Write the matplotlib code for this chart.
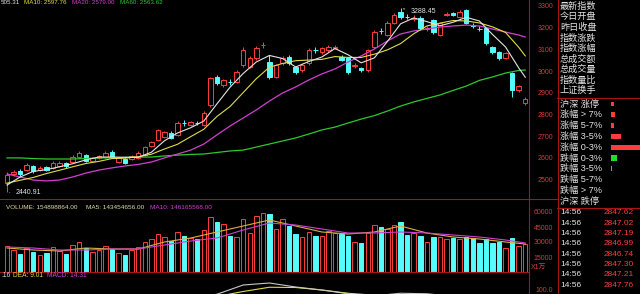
import numpy as np
import matplotlib
matplotlib.use("Agg")
import matplotlib.pyplot as plt
from matplotlib.lines import Line2D

W, H = 640, 294

# daily candles, left to right
opens = [2484, 2526, 2540, 2544, 2562, 2545, 2558, 2553, 2563, 2577,
         2581, 2604, 2614, 2586, 2600, 2604, 2627, 2581, 2595, 2595,
         2600, 2614, 2655, 2683, 2696, 2715, 2706, 2763, 2752, 2762,
         2752, 2844, 2973, 2936, 2952, 2950, 3028, 3019, 3060, 3118,
         3042, 2973, 3037, 3065, 3019, 3005, 3037, 3099, 3088, 3097,
         3107, 3065, 3060, 3024, 3014, 3005, 3111, 3187, 3166, 3222,
         3272, 3251, 3242, 3245, 3194, 3235, 3166, 3258, 3266, 3249,
         3282, 3214, 3196, 3199, 3111, 3088, 3060, 2991, 2913, 2851]
closes = [2521, 2535, 2526, 2567, 2540, 2554, 2545, 2577, 2577, 2563,
          2604, 2623, 2586, 2600, 2609, 2623, 2604, 2600, 2577, 2609,
          2623, 2650, 2673, 2729, 2719, 2692, 2761, 2759, 2766, 2759,
          2807, 2968, 2945, 2959, 2949, 2996, 3097, 3060, 3107, 3122,
          2973, 3028, 3060, 3037, 2996, 3028, 3097, 3095, 3107, 3111,
          3111, 3051, 2996, 3028, 3005, 3097, 3180, 3183, 3222, 3258,
          3249, 3248, 3246, 3199, 3199, 3180, 3222, 3265, 3260, 3272,
          3222, 3210, 3193, 3130, 3088, 3060, 3083, 2913, 2931, 2872]
highs = [2535, 2545, 2548, 2575, 2568, 2562, 2565, 2585, 2584, 2583,
         2612, 2632, 2620, 2606, 2615, 2630, 2635, 2606, 2600, 2615,
         2630, 2656, 2680, 2735, 2726, 2722, 2768, 2775, 2772, 2772,
         2815, 2975, 2982, 2965, 2962, 3003, 3111, 3068, 3115, 3135,
         3074, 3035, 3068, 3072, 3025, 3036, 3105, 3110, 3113, 3118,
         3120, 3072, 3066, 3037, 3020, 3104, 3188, 3198, 3230, 3266,
         3288.45, 3262, 3258, 3252, 3206, 3242, 3228, 3272, 3273, 3280,
         3287, 3220, 3206, 3204, 3115, 3094, 3090, 2998, 2938, 2880]
lows = [2440.91, 2515, 2518, 2538, 2532, 2538, 2538, 2548, 2557, 2555,
        2576, 2598, 2580, 2580, 2594, 2598, 2598, 2575, 2570, 2590,
        2594, 2608, 2648, 2676, 2690, 2686, 2700, 2748, 2745, 2750,
        2745, 2835, 2938, 2928, 2938, 2944, 3020, 3012, 3052, 3108,
        2965, 2966, 3030, 3030, 2988, 2998, 3030, 3085, 3080, 3090,
        3100, 3045, 2988, 3015, 2995, 2998, 3104, 3172, 3160, 3215,
        3240, 3238, 3232, 3190, 3186, 3172, 3160, 3252, 3254, 3244,
        3215, 3200, 3185, 3122, 3080, 3052, 3055, 2881, 2905, 2842]
volumes = [26000, 22000, 18000, 24000, 20000, 17000, 19000, 25000, 21000, 18000,
           27000, 30000, 24000, 20000, 22000, 26000, 23000, 19000, 17000, 22000,
           25000, 30000, 33000, 38000, 35000, 31000, 40000, 36000, 34000, 33000,
           42000, 55000, 50000, 48000, 36000, 35000, 53000, 39000, 56000, 59000,
           58000, 43000, 53000, 46000, 38000, 35000, 40000, 36000, 36000, 41000,
           39000, 38000, 36000, 30000, 29000, 39000, 47000, 45000, 43000, 47000,
           50000, 37000, 39000, 36000, 30000, 35000, 35000, 33000, 34000, 33000,
           35000, 34000, 29000, 33000, 29000, 30000, 24000, 34000, 26000, 28000]

# price moving averages, read at every second candle and the last one
ma_idx = [0, 2, 4, 6, 8, 10, 12, 14, 16, 18, 20, 22, 24, 26, 28, 30, 32, 34, 36, 38,
          40, 42, 44, 46, 48, 50, 52, 54, 56, 58, 60, 62, 64, 66, 68, 70, 72, 74, 76, 78, 79]
ma5 = [2475, 2512, 2538, 2546, 2559, 2573, 2591, 2604, 2604, 2603, 2603, 2626, 2679, 2715,
       2739, 2770, 2849, 2926, 2989, 3042, 3072, 3058, 3019, 3044, 3065, 3104, 3075, 3038,
       3061, 3137, 3218, 3245, 3228, 3209, 3225, 3248, 3231, 3169, 3111, 3015, 2972]
ma10 = [2484, 2497, 2510, 2528, 2543, 2559, 2574, 2584, 2597, 2599, 2605, 2617, 2641, 2663,
        2698, 2732, 2791, 2837, 2901, 2965, 3018, 3035, 3048, 3051, 3054, 3067, 3063, 3063,
        3078, 3098, 3127, 3172, 3208, 3221, 3233, 3231, 3222, 3204, 3178, 3110, 3070]
ma20 = [2526, 2512, 2498, 2494, 2498, 2512, 2530, 2544, 2554, 2563, 2570, 2581, 2600, 2618,
        2636, 2664, 2706, 2747, 2784, 2821, 2862, 2899, 2927, 2959, 2987, 3010, 3042, 3070,
        3102, 3139, 3171, 3185, 3194, 3203, 3208, 3212, 3208, 3194, 3180, 3166, 3157]
ma60 = [2600, 2600, 2597, 2595, 2595, 2595, 2597, 2600, 2600, 2602, 2604, 2604, 2609, 2613,
        2616, 2618, 2625, 2632, 2636, 2650, 2664, 2678, 2692, 2710, 2729, 2742, 2761, 2779,
        2795, 2816, 2839, 2858, 2874, 2890, 2911, 2931, 2957, 2973, 2991, 3003, 3005]

# volume moving averages
vol_ma_idx = [0, 4, 8, 12, 16, 20, 24, 28, 32, 36, 40, 44, 48, 52, 56, 60, 64, 68, 72, 76, 79]
vol_ma5 = [24000, 22000, 21000, 24000, 23000, 23000, 30000, 34000, 40000, 46000, 52000,
           46000, 40000, 38000, 40000, 46000, 39000, 35000, 33000, 30000, 28000]
vol_ma10 = [25000, 24000, 22000, 22000, 23000, 23000, 27000, 31000, 34000, 42000, 49000,
            47000, 43000, 39000, 39000, 40000, 39000, 37000, 35000, 32000, 29000]

# MACD lines (only the top of them shows in the strip)
macd_idx = [24, 28, 32, 36, 40, 44, 48, 52, 56, 60, 64, 68]
dif = [0, 30, 58, 132, 148, 116, 92, 62, 45, 66, 62, 40]
dea = [-10, 12, 40, 80, 114, 112, 92, 66, 50, 52, 52, 45]

price_ticks = [2500, 2600, 2700, 2800, 2900, 3000, 3100, 3200, 3300]
vol_ticks = [15000, 30000, 45000, 60000]
macd_ticks = [100]

quote_labels = ["最新指数", "今日开盘", "昨日收盘", "指数涨跌", "指数涨幅",
                "总成交额", "总成交量", "指数量比", "上证换手"]
breadth_labels = ["沪深 涨停", "涨幅 > 7%", "涨幅 5-7%", "涨幅 3-5%", "涨幅 0-3%",
                  "跌幅 0-3%", "跌幅 3-5%", "跌幅 5-7%", "跌幅 > 7%", "沪深 跌停"]
breadth_counts = [12, 15, 12, 38, 160, 24, 2, 1, 1, 1]
tick_times = ["14:56"] * 8
tick_prices = [2847.62, 2847.02, 2847.19, 2846.99, 2846.74, 2847.30, 2847.21, 2847.76]

RED = '#ff3c3c'
CYAN = '#54fcfc'
LINE_RED = '#a81414'
LABEL_RED = '#d83c3c'
WHITE = '#e4e4e4'
YELLOW = '#e0dc48'
MAGENTA = '#d040d0'
GREEN = '#2cc82c'

plt.rcParams['font.family'] = ['Liberation Sans', 'Noto Sans CJK SC', 'DejaVu Sans']


def px_rect(x0, y0, x1, y1):
    return [x0 / W, 1 - y1 / H, (x1 - x0) / W, (y1 - y0) / H]


def fy(y):
    return 1 - y / H


fig = plt.figure(figsize=(W / 100, H / 100), dpi=100)
fig.set_facecolor('black')

XLIM = (-1.07, 79.42)
x = np.arange(len(closes))
o = np.array(opens, float)
c = np.array(closes, float)
hi = np.array(highs, float)
lo = np.array(lows, float)
up = c >= o
body_lo = np.minimum(o, c)
body_hi = np.maximum(o, c)
body_h = np.maximum(body_hi - body_lo, 2.5)
edge = [RED if u else CYAN for u in up]
face = ['black' if u else CYAN for u in up]

# ---- price panel ----
ax = fig.add_axes(px_rect(0, 0, 528, 199))
ax.set_facecolor('black')
ax.vlines(x, lo, body_lo, colors=edge, lw=0.7, zorder=2)
ax.vlines(x, body_lo + body_h, hi, colors=edge, lw=0.7, zorder=2)
ax.bar(x, body_h, bottom=body_lo, width=0.68, color=face, edgecolor=edge,
       linewidth=0.7, zorder=2)
ax.plot(ma_idx, ma60, color=GREEN, lw=0.9, zorder=3)
ax.plot(ma_idx, ma20, color=MAGENTA, lw=0.9, zorder=3)
ax.plot(ma_idx, ma10, color=YELLOW, lw=0.8, zorder=3)
ax.plot(ma_idx, ma5, color=WHITE, lw=0.8, zorder=3)
ax.set_xlim(*XLIM)
ax.set_ylim(2410.7, 3327.6)
ax.set_xticks([])
ax.set_yticks(price_ticks)
ax.yaxis.tick_right()
ax.tick_params(axis='y', length=0, pad=18, labelsize=5, colors=LABEL_RED)
for t in ax.get_yticklabels():
    t.set_ha('right')
for s in ax.spines.values():
    s.set_visible(False)

peak = int(np.argmax(hi))
ax.annotate(f"{hi[peak]:.2f}", xy=(peak, hi[peak]), xytext=(7, -2),
            textcoords='offset points', ha='left', va='center', fontsize=5,
            color=WHITE, arrowprops=dict(arrowstyle='-', color=WHITE, lw=0.6))
low = int(np.argmin(lo))
ax.annotate(f"{lo[low]:.2f}", xy=(low, lo[low]), xytext=(6, 0),
            textcoords='offset points', ha='left', va='center', fontsize=5,
            color=WHITE, arrowprops=dict(arrowstyle='-', color=WHITE, lw=0.6))

# ---- volume panel ----
axv = fig.add_axes(px_rect(0, 199, 528, 272))
axv.set_facecolor('black')
axv.bar(x, volumes, width=0.68, color=face, edgecolor=edge, linewidth=0.7)
axv.plot(vol_ma_idx, vol_ma5, color='#d8b040', lw=0.8)
axv.plot(vol_ma_idx, vol_ma10, color=MAGENTA, lw=0.8)
axv.set_xlim(*XLIM)
axv.set_ylim(0, 73000)
axv.set_xticks([])
axv.set_yticks(vol_ticks)
axv.yaxis.tick_right()
axv.tick_params(axis='y', length=0, pad=18, labelsize=5, colors=LABEL_RED)
for t in axv.get_yticklabels():
    t.set_ha('right')
for s in axv.spines.values():
    s.set_visible(False)

# ---- MACD strip ----
axm = fig.add_axes(px_rect(0, 272, 528, 294))
axm.set_facecolor('black')
axm.plot(macd_idx, dea, color=YELLOW, lw=0.8)
axm.plot(macd_idx, dif, color='#c8c8c8', lw=0.8)
axm.set_xlim(*XLIM)
axm.set_ylim(60, 236)
axm.set_xticks([])
axm.set_yticks(macd_ticks)
axm.yaxis.set_major_formatter('{x:.1f}')
axm.yaxis.tick_right()
axm.tick_params(axis='y', length=0, pad=18, labelsize=5, colors=LABEL_RED)
for t in axm.get_yticklabels():
    t.set_ha('right')
for s in axm.spines.values():
    s.set_visible(False)

# ---- headers ----
for xp, txt, col in [(1, "505.31", WHITE), (24, "MA10: 2597.76", YELLOW),
                     (72, "MA20: 2579.00", MAGENTA), (120, "MA60: 2563.62", GREEN)]:
    fig.text(xp / W, fy(0.5), txt, color=col, fontsize=4.5, va='top')
for xp, txt, col in [(6, "VOLUME: 154898864.00", '#e2dca8'), (86, "MA5: 143454656.00", '#e2dca8'),
                     (150, "MA10: 146165568.00", MAGENTA)]:
    fig.text(xp / W, fy(207.5), txt, color=col, fontsize=4.6, va='center')
for xp, txt, col in [(1, ".16", WHITE), (13, "DEA: 9.01", YELLOW), (47, "MACD: 14.31", MAGENTA)]:
    fig.text(xp / W, fy(275.7), txt, color=col, fontsize=4.8, va='center')
fig.text(531 / W, fy(267), "X1万", color=LABEL_RED, fontsize=5, va='center')

# ---- frame lines ----
for (x0, y0, x1, y1) in [(0, 198.5, 557, 198.5), (0, 271.5, 528, 271.5),
                         (528.5, 0, 528.5, 294), (557.5, 0, 557.5, 294),
                         (557, 98, 640, 98), (557, 208, 640, 208)]:
    fig.add_artist(Line2D([x0 / W, x1 / W], [fy(y0), fy(y1)], color=LINE_RED, lw=0.8))

# ---- info panel ----
for k, lab in enumerate(quote_labels):
    fig.text(560 / W, fy(6 + 10.6 * k), lab, color=WHITE, fontsize=6.6, va='center')
for k, lab in enumerate(breadth_labels):
    fig.text(560 / W, fy(104 + 10.8 * k), lab, color=WHITE, fontsize=6.6, va='center')
for k, (tm, pr) in enumerate(zip(tick_times, tick_prices)):
    fig.text(560 / W, fy(213 + 10.3 * k), tm, color=WHITE, fontsize=6, va='center')
    fig.text(634 / W, fy(213 + 10.3 * k), f"{pr:.2f}", color=RED, fontsize=6,
             va='center', ha='right')

axb = fig.add_axes(px_rect(611, 98.6, 640, 206.6))
axb.set_facecolor('none')
bar_cols = [RED] * 5 + ['#22dd22'] * 5
bar_h = [0.45] * 5 + [0.55] + [0.45] * 4
axb.barh(range(len(breadth_counts)), breadth_counts, height=bar_h, color=bar_cols)
axb.set_xlim(0, 115)
axb.set_ylim(len(breadth_counts) - 0.5, -0.5)
axb.axis('off')

fig.savefig("out.png", dpi=100, facecolor='black')
